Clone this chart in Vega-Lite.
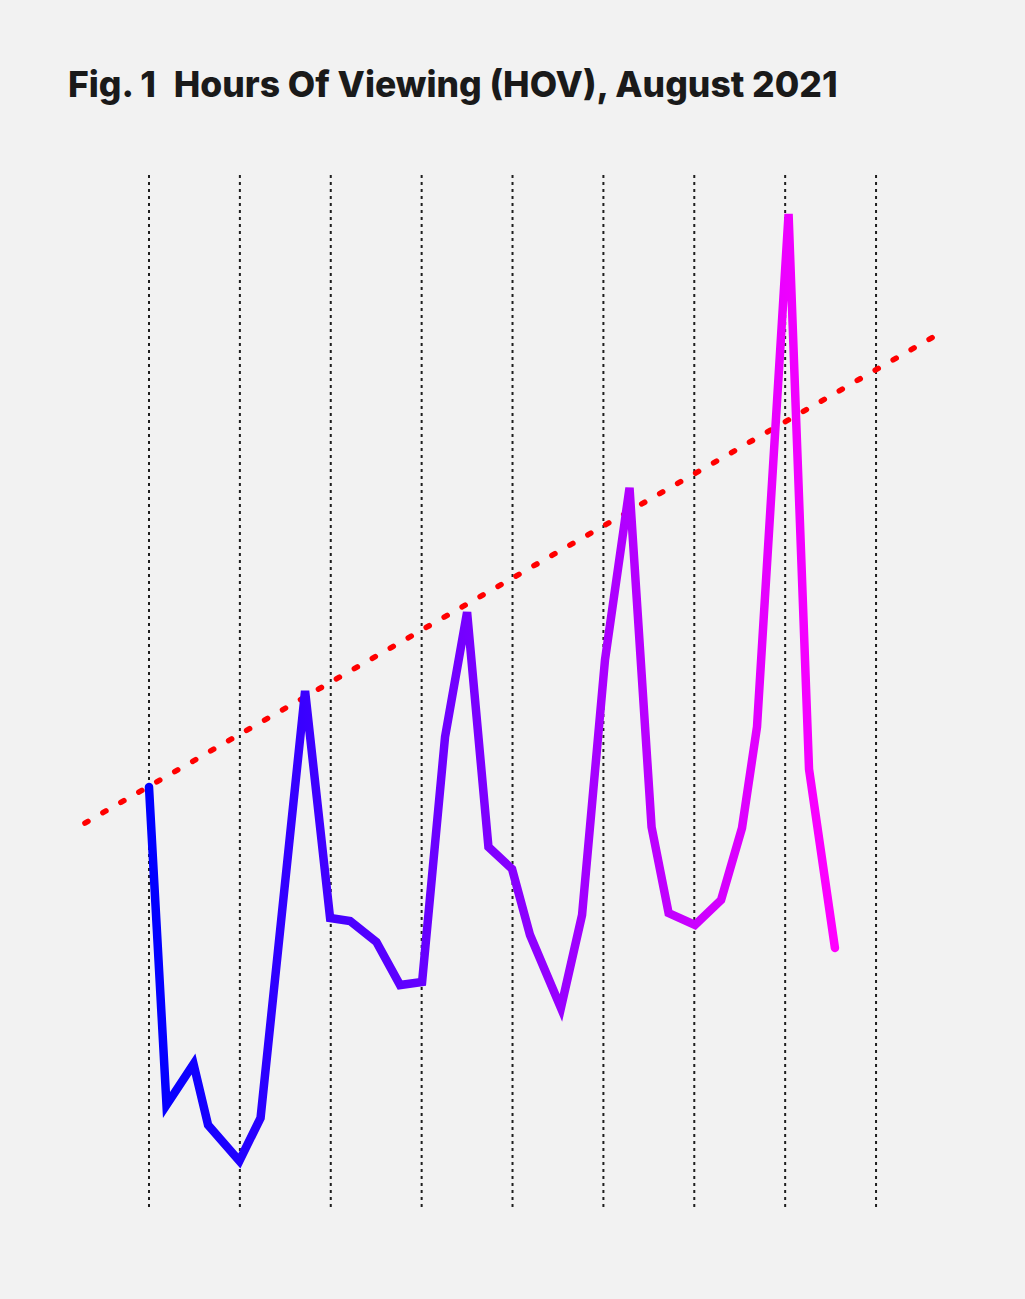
{
  "$schema": "https://vega.github.io/schema/vega-lite/v6.json",
  "width": 1025,
  "height": 1036,
  "autosize": {"type": "none"},
  "padding": {"top": 175, "left": 0, "right": 0, "bottom": 88},
  "background": "#f2f2f2",
  "title": {
    "text": "Fig. 1\u2002Hours Of Viewing (HOV), August 2021",
    "anchor": "start",
    "frame": "group",
    "dx": 68,
    "offset": 70,
    "font": "Inter",
    "fontSize": 35.5,
    "fontWeight": 800,
    "color": "#1a1a1a"
  },
  "config": {"view": {"stroke": null}},
  "datasets": {
    "hov": [
      {"day": 1.00, "hov": 40.93},
      {"day": 1.77, "hov": 10.23},
      {"day": 2.96, "hov": 14.19},
      {"day": 3.60, "hov": 8.30},
      {"day": 4.98, "hov": 4.83},
      {"day": 5.91, "hov": 8.98},
      {"day": 7.87, "hov": 50.2},
      {"day": 8.97, "hov": 28.28},
      {"day": 9.85, "hov": 27.99},
      {"day": 11.01, "hov": 25.97},
      {"day": 12.05, "hov": 21.81},
      {"day": 13.02, "hov": 22.10},
      {"day": 14.03, "hov": 45.75},
      {"day": 15.00, "hov": 57.8},
      {"day": 15.94, "hov": 35.14},
      {"day": 16.98, "hov": 33.01},
      {"day": 17.77, "hov": 26.64},
      {"day": 19.13, "hov": 19.6},
      {"day": 20.06, "hov": 28.57},
      {"day": 21.07, "hov": 53.19},
      {"day": 22.15, "hov": 69.8},
      {"day": 23.12, "hov": 37.07},
      {"day": 23.87, "hov": 28.76},
      {"day": 25.03, "hov": 27.61},
      {"day": 26.18, "hov": 30.02},
      {"day": 27.10, "hov": 36.97},
      {"day": 27.76, "hov": 46.72},
      {"day": 29.15, "hov": 96.24},
      {"day": 30.05, "hov": 42.66},
      {"day": 31.19, "hov": 25.39}
    ],
    "trend": [
      {"day": -1.82, "hov": 37.45},
      {"day": 35.82, "hov": 84.75}
    ],
    "grid": [
      {"day": 1}, {"day": 5}, {"day": 9}, {"day": 13}, {"day": 17},
      {"day": 21}, {"day": 25}, {"day": 29}, {"day": 33}
    ]
  },
  "layer": [
    {
      "data": {"name": "grid"},
      "mark": {"type": "rule", "color": "#1f1f1f", "strokeWidth": 2, "strokeDash": [3, 4]},
      "encoding": {
        "x": {"field": "day", "type": "quantitative", "axis": null,
              "scale": {"domain": [-5.558, 39.556], "nice": false, "zero": false}}
      }
    },
    {
      "data": {"name": "trend"},
      "mark": {"type": "line", "color": "#ff0000", "strokeWidth": 5.5, "strokeDash": [3.5, 17.2], "strokeCap": "round"},
      "encoding": {
        "x": {"field": "day", "type": "quantitative", "axis": null},
        "y": {"field": "hov", "type": "quantitative", "axis": null,
              "scale": {"domain": [0, 100], "nice": false, "zero": false}}
      }
    },
    {
      "data": {"name": "hov"},
      "mark": {
        "type": "line",
        "strokeWidth": 8.5,
        "strokeCap": "round",
        "color": {
          "gradient": "linear",
          "x1": 0, "y1": 0, "x2": 1, "y2": 0,
          "stops": [
            {"offset": 0, "color": "#0000ff"},
            {"offset": 1, "color": "#ff00ff"}
          ]
        }
      },
      "encoding": {
        "x": {"field": "day", "type": "quantitative", "axis": null},
        "y": {"field": "hov", "type": "quantitative", "axis": null}
      }
    }
  ]
}
